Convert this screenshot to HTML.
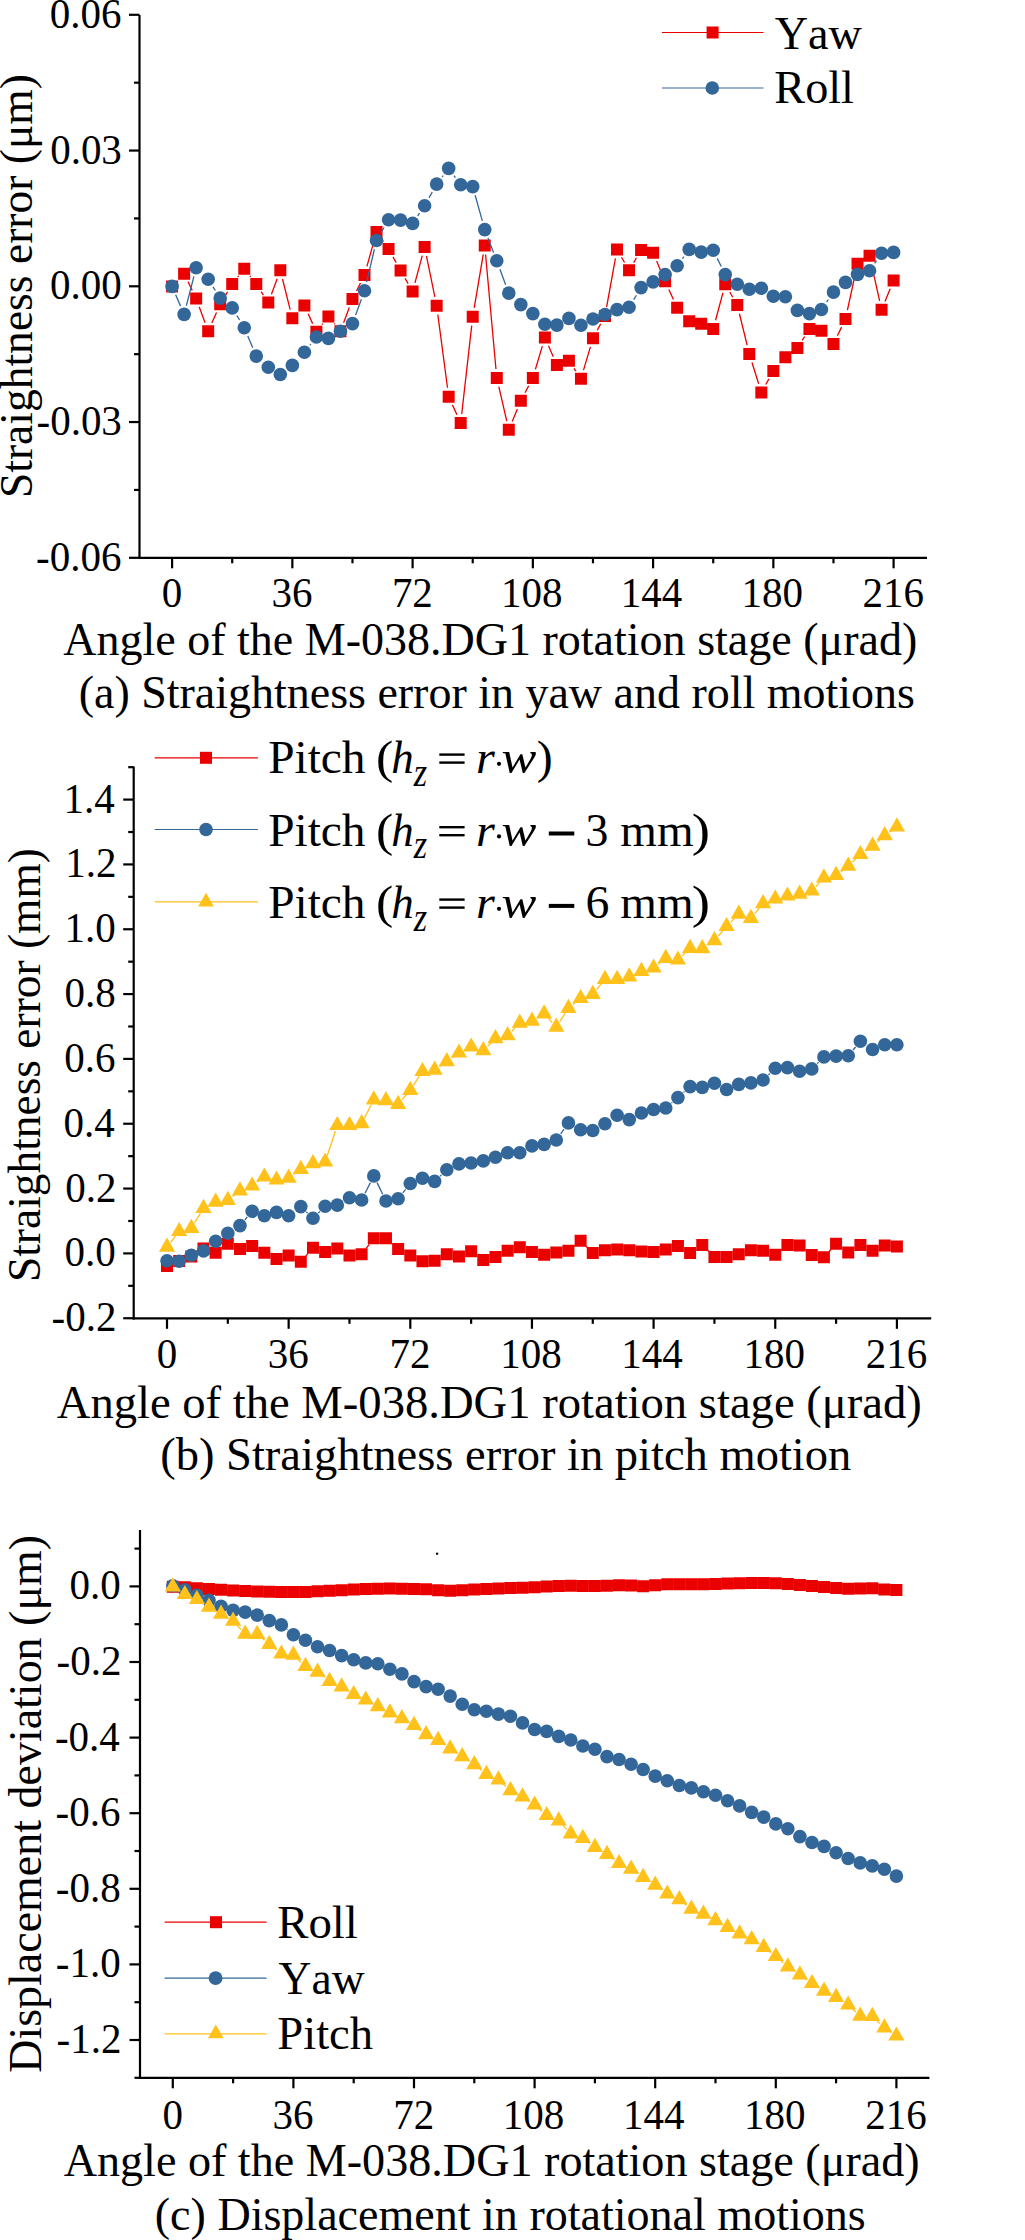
<!DOCTYPE html>
<html><head><meta charset="utf-8"><style>
html,body{margin:0;padding:0;background:#fff;}
svg{display:block;}
text{font-family:"Liberation Serif",serif;font-kerning:none;}
</style></head><body>
<svg width="1025" height="2240" viewBox="0 0 1025 2240" font-family="Liberation Serif, serif" fill="#000">
<rect width="1025" height="2240" fill="#fff"/>
<line x1="139.50" y1="15.00" x2="139.50" y2="558.90" stroke="#000" stroke-width="2.2"/>
<line x1="138.40" y1="557.80" x2="927.00" y2="557.80" stroke="#000" stroke-width="2.2"/>
<line x1="129.00" y1="14.80" x2="139.50" y2="14.80" stroke="#000" stroke-width="2.2"/>
<line x1="129.00" y1="150.55" x2="139.50" y2="150.55" stroke="#000" stroke-width="2.2"/>
<line x1="129.00" y1="286.30" x2="139.50" y2="286.30" stroke="#000" stroke-width="2.2"/>
<line x1="129.00" y1="422.05" x2="139.50" y2="422.05" stroke="#000" stroke-width="2.2"/>
<line x1="129.00" y1="557.80" x2="139.50" y2="557.80" stroke="#000" stroke-width="2.2"/>
<line x1="134.00" y1="82.68" x2="139.50" y2="82.68" stroke="#000" stroke-width="2.2"/>
<line x1="134.00" y1="218.43" x2="139.50" y2="218.43" stroke="#000" stroke-width="2.2"/>
<line x1="134.00" y1="354.18" x2="139.50" y2="354.18" stroke="#000" stroke-width="2.2"/>
<line x1="134.00" y1="489.93" x2="139.50" y2="489.93" stroke="#000" stroke-width="2.2"/>
<line x1="172.10" y1="557.80" x2="172.10" y2="568.30" stroke="#000" stroke-width="2.2"/>
<line x1="292.35" y1="557.80" x2="292.35" y2="568.30" stroke="#000" stroke-width="2.2"/>
<line x1="412.60" y1="557.80" x2="412.60" y2="568.30" stroke="#000" stroke-width="2.2"/>
<line x1="532.85" y1="557.80" x2="532.85" y2="568.30" stroke="#000" stroke-width="2.2"/>
<line x1="653.10" y1="557.80" x2="653.10" y2="568.30" stroke="#000" stroke-width="2.2"/>
<line x1="773.35" y1="557.80" x2="773.35" y2="568.30" stroke="#000" stroke-width="2.2"/>
<line x1="893.60" y1="557.80" x2="893.60" y2="568.30" stroke="#000" stroke-width="2.2"/>
<line x1="232.22" y1="557.80" x2="232.22" y2="563.30" stroke="#000" stroke-width="2.2"/>
<line x1="352.48" y1="557.80" x2="352.48" y2="563.30" stroke="#000" stroke-width="2.2"/>
<line x1="472.73" y1="557.80" x2="472.73" y2="563.30" stroke="#000" stroke-width="2.2"/>
<line x1="592.98" y1="557.80" x2="592.98" y2="563.30" stroke="#000" stroke-width="2.2"/>
<line x1="713.23" y1="557.80" x2="713.23" y2="563.30" stroke="#000" stroke-width="2.2"/>
<line x1="833.48" y1="557.80" x2="833.48" y2="563.30" stroke="#000" stroke-width="2.2"/>
<text transform="translate(49.77,27.80) scale(1,1.05)" font-size="41.0">0.06</text>
<text transform="translate(50.15,163.55) scale(1,1.05)" font-size="41.0">0.03</text>
<text transform="translate(50.11,299.30) scale(1,1.05)" font-size="41.0">0.00</text>
<text transform="translate(36.50,435.05) scale(1,1.05)" font-size="41.0">-0.03</text>
<text transform="translate(36.12,570.80) scale(1,1.05)" font-size="41.0">-0.06</text>
<text transform="translate(161.85,607.00) scale(1,1.05)" font-size="41.0">0</text>
<text transform="translate(271.48,607.00) scale(1,1.05)" font-size="41.0">36</text>
<text transform="translate(391.88,607.00) scale(1,1.05)" font-size="41.0">72</text>
<text transform="translate(501.08,607.00) scale(1,1.05)" font-size="41.0">108</text>
<text transform="translate(620.87,607.00) scale(1,1.05)" font-size="41.0">144</text>
<text transform="translate(741.58,607.00) scale(1,1.05)" font-size="41.0">180</text>
<text transform="translate(862.56,607.00) scale(1,1.05)" font-size="41.0">216</text>
<text x="63.25" y="655.30" font-size="46.035">Angle of the M-038.DG1 rotation stage (μrad)</text>
<text x="78.68" y="708.40" font-size="45.979">(a) Straightness error in yaw and roll motions</text>
<text transform="translate(31.70,498.05) rotate(-90)" font-size="45.540">Straightness error (μm)</text>
<path d="M188.05 281.80L192.22 290.40M199.26 306.95L205.07 322.75M211.84 322.98L216.54 312.42M224.80 296.47L227.62 291.73M237.79 276.92L238.69 275.78M249.81 275.78L250.71 276.92M261.16 291.56L263.41 295.04M271.44 294.17L277.18 278.73M282.51 279.03L290.16 309.57M308.13 313.78L312.65 323.62M321.96 324.72L322.86 323.58M334.12 323.47L334.75 324.23M343.60 322.77L349.33 307.43M356.51 290.95L360.47 283.05M366.92 266.33L374.10 240.67M381.72 239.35L383.35 241.65M392.94 256.85L396.18 262.65M405.05 278.31L408.13 283.69M414.95 282.81L422.28 255.69M426.43 255.82L434.84 296.88M437.83 314.62L447.50 387.78M452.43 404.88L456.95 414.72M461.71 413.96L471.71 325.64M474.23 307.83L483.25 254.47M485.56 254.56L495.96 368.94M498.81 386.67L506.77 421.03M512.24 421.48L517.39 409.02M525.02 392.74L528.65 385.86M535.42 369.27L542.31 346.13M548.48 345.75L553.29 356.75M573.94 368.27L575.93 371.23M583.51 370.07L590.41 346.83M597.26 330.29L600.71 323.91M606.60 307.14L615.43 258.26M621.51 257.20L624.56 262.50M633.64 262.56L636.49 257.74M656.61 261.09L661.62 272.91M668.84 289.40L673.43 299.50M715.56 320.21L722.91 292.89M729.75 291.99L732.77 297.21M739.42 313.74L747.15 345.16M751.98 362.49L758.64 383.81M765.73 384.55L768.94 378.85M802.20 340.38L804.63 336.52M837.39 335.80L841.59 327.10M847.41 310.21L855.61 272.49M871.51 264.58L879.62 300.92M885.00 301.38L890.17 288.82" stroke="#EB0000" stroke-width="1.3" fill="none"/>
<path d="M166.10 280.40h12.0v12.0h-12.0zM178.12 267.70h12.0v12.0h-12.0zM190.15 292.50h12.0v12.0h-12.0zM202.18 325.20h12.0v12.0h-12.0zM214.20 298.20h12.0v12.0h-12.0zM226.22 278.00h12.0v12.0h-12.0zM238.25 262.70h12.0v12.0h-12.0zM250.27 278.00h12.0v12.0h-12.0zM262.30 296.60h12.0v12.0h-12.0zM274.32 264.30h12.0v12.0h-12.0zM286.35 312.30h12.0v12.0h-12.0zM298.38 299.60h12.0v12.0h-12.0zM310.40 325.80h12.0v12.0h-12.0zM322.42 310.50h12.0v12.0h-12.0zM334.45 325.20h12.0v12.0h-12.0zM346.48 293.00h12.0v12.0h-12.0zM358.50 269.00h12.0v12.0h-12.0zM370.52 226.00h12.0v12.0h-12.0zM382.55 243.00h12.0v12.0h-12.0zM394.57 264.50h12.0v12.0h-12.0zM406.60 285.50h12.0v12.0h-12.0zM418.62 241.00h12.0v12.0h-12.0zM430.65 299.70h12.0v12.0h-12.0zM442.67 390.70h12.0v12.0h-12.0zM454.70 416.90h12.0v12.0h-12.0zM466.73 310.70h12.0v12.0h-12.0zM478.75 239.60h12.0v12.0h-12.0zM490.77 371.90h12.0v12.0h-12.0zM502.80 423.80h12.0v12.0h-12.0zM514.83 394.70h12.0v12.0h-12.0zM526.85 371.90h12.0v12.0h-12.0zM538.88 331.50h12.0v12.0h-12.0zM550.90 359.00h12.0v12.0h-12.0zM562.92 354.80h12.0v12.0h-12.0zM574.95 372.70h12.0v12.0h-12.0zM586.98 332.20h12.0v12.0h-12.0zM599.00 310.00h12.0v12.0h-12.0zM611.02 243.40h12.0v12.0h-12.0zM623.05 264.30h12.0v12.0h-12.0zM635.08 244.00h12.0v12.0h-12.0zM647.10 246.80h12.0v12.0h-12.0zM659.12 275.20h12.0v12.0h-12.0zM671.15 301.70h12.0v12.0h-12.0zM683.18 315.20h12.0v12.0h-12.0zM695.20 317.80h12.0v12.0h-12.0zM707.23 322.90h12.0v12.0h-12.0zM719.25 278.20h12.0v12.0h-12.0zM731.27 299.00h12.0v12.0h-12.0zM743.30 347.90h12.0v12.0h-12.0zM755.33 386.40h12.0v12.0h-12.0zM767.35 365.00h12.0v12.0h-12.0zM779.38 351.30h12.0v12.0h-12.0zM791.40 342.00h12.0v12.0h-12.0zM803.43 322.90h12.0v12.0h-12.0zM815.45 324.70h12.0v12.0h-12.0zM827.48 337.90h12.0v12.0h-12.0zM839.50 313.00h12.0v12.0h-12.0zM851.52 257.70h12.0v12.0h-12.0zM863.55 249.80h12.0v12.0h-12.0zM875.58 303.70h12.0v12.0h-12.0zM887.60 274.50h12.0v12.0h-12.0z" fill="#EB0000"/>
<path d="M175.65 294.67L180.57 306.13M186.37 305.68L193.91 276.42M213.02 286.88L215.35 290.52M236.90 315.59L239.58 320.01M247.76 335.99L252.77 347.81M309.94 345.22L310.84 344.08M355.57 315.15L361.40 299.25M366.59 282.05L374.43 249.25M381.03 232.71L384.05 227.49M417.66 215.96L419.57 213.14M429.00 197.84L432.27 191.96M442.12 176.95L443.20 175.55M454.00 175.66L455.38 177.54M475.15 195.27L482.33 220.93M487.99 238.00L493.54 252.40M499.92 269.23L505.66 284.67M633.74 299.62L636.39 295.28M682.47 258.54L683.85 256.66M717.22 258.37L721.26 266.53M826.57 302.10L828.36 299.50M874.63 263.37L876.50 260.63" stroke="#336699" stroke-width="1.3" fill="none"/>
<circle cx="172.10" cy="286.40" r="6.8" fill="#336699"/>
<circle cx="184.12" cy="314.40" r="6.8" fill="#336699"/>
<circle cx="196.15" cy="267.70" r="6.8" fill="#336699"/>
<circle cx="208.18" cy="279.30" r="6.8" fill="#336699"/>
<circle cx="220.20" cy="298.10" r="6.8" fill="#336699"/>
<circle cx="232.22" cy="307.90" r="6.8" fill="#336699"/>
<circle cx="244.25" cy="327.70" r="6.8" fill="#336699"/>
<circle cx="256.27" cy="356.10" r="6.8" fill="#336699"/>
<circle cx="268.30" cy="367.30" r="6.8" fill="#336699"/>
<circle cx="280.32" cy="374.50" r="6.8" fill="#336699"/>
<circle cx="292.35" cy="365.40" r="6.8" fill="#336699"/>
<circle cx="304.38" cy="352.30" r="6.8" fill="#336699"/>
<circle cx="316.40" cy="337.00" r="6.8" fill="#336699"/>
<circle cx="328.42" cy="338.40" r="6.8" fill="#336699"/>
<circle cx="340.45" cy="331.20" r="6.8" fill="#336699"/>
<circle cx="352.48" cy="323.60" r="6.8" fill="#336699"/>
<circle cx="364.50" cy="290.80" r="6.8" fill="#336699"/>
<circle cx="376.52" cy="240.50" r="6.8" fill="#336699"/>
<circle cx="388.55" cy="219.70" r="6.8" fill="#336699"/>
<circle cx="400.57" cy="220.10" r="6.8" fill="#336699"/>
<circle cx="412.60" cy="223.40" r="6.8" fill="#336699"/>
<circle cx="424.62" cy="205.70" r="6.8" fill="#336699"/>
<circle cx="436.65" cy="184.10" r="6.8" fill="#336699"/>
<circle cx="448.67" cy="168.40" r="6.8" fill="#336699"/>
<circle cx="460.70" cy="184.80" r="6.8" fill="#336699"/>
<circle cx="472.73" cy="186.60" r="6.8" fill="#336699"/>
<circle cx="484.75" cy="229.60" r="6.8" fill="#336699"/>
<circle cx="496.77" cy="260.80" r="6.8" fill="#336699"/>
<circle cx="508.80" cy="293.10" r="6.8" fill="#336699"/>
<circle cx="520.83" cy="304.60" r="6.8" fill="#336699"/>
<circle cx="532.85" cy="313.60" r="6.8" fill="#336699"/>
<circle cx="544.88" cy="324.20" r="6.8" fill="#336699"/>
<circle cx="556.90" cy="325.10" r="6.8" fill="#336699"/>
<circle cx="568.92" cy="318.40" r="6.8" fill="#336699"/>
<circle cx="580.95" cy="325.20" r="6.8" fill="#336699"/>
<circle cx="592.98" cy="319.00" r="6.8" fill="#336699"/>
<circle cx="605.00" cy="314.50" r="6.8" fill="#336699"/>
<circle cx="617.02" cy="309.60" r="6.8" fill="#336699"/>
<circle cx="629.05" cy="307.30" r="6.8" fill="#336699"/>
<circle cx="641.08" cy="287.60" r="6.8" fill="#336699"/>
<circle cx="653.10" cy="281.90" r="6.8" fill="#336699"/>
<circle cx="665.12" cy="274.60" r="6.8" fill="#336699"/>
<circle cx="677.15" cy="265.80" r="6.8" fill="#336699"/>
<circle cx="689.18" cy="249.40" r="6.8" fill="#336699"/>
<circle cx="701.20" cy="252.10" r="6.8" fill="#336699"/>
<circle cx="713.23" cy="250.30" r="6.8" fill="#336699"/>
<circle cx="725.25" cy="274.60" r="6.8" fill="#336699"/>
<circle cx="737.27" cy="284.20" r="6.8" fill="#336699"/>
<circle cx="749.30" cy="289.30" r="6.8" fill="#336699"/>
<circle cx="761.33" cy="288.30" r="6.8" fill="#336699"/>
<circle cx="773.35" cy="296.20" r="6.8" fill="#336699"/>
<circle cx="785.38" cy="296.80" r="6.8" fill="#336699"/>
<circle cx="797.40" cy="310.40" r="6.8" fill="#336699"/>
<circle cx="809.43" cy="313.60" r="6.8" fill="#336699"/>
<circle cx="821.45" cy="309.50" r="6.8" fill="#336699"/>
<circle cx="833.48" cy="292.10" r="6.8" fill="#336699"/>
<circle cx="845.50" cy="282.40" r="6.8" fill="#336699"/>
<circle cx="857.52" cy="274.40" r="6.8" fill="#336699"/>
<circle cx="869.55" cy="270.80" r="6.8" fill="#336699"/>
<circle cx="881.58" cy="253.20" r="6.8" fill="#336699"/>
<circle cx="893.60" cy="252.40" r="6.8" fill="#336699"/>
<line x1="662.00" y1="32.50" x2="763.50" y2="32.50" stroke="#EB0000" stroke-width="1.2"/>
<rect x="706.6" y="26.5" width="12" height="12" fill="#EB0000"/>
<line x1="662.00" y1="88.00" x2="763.50" y2="88.00" stroke="#336699" stroke-width="1.2"/>
<circle cx="712.3" cy="88" r="6.8" fill="#336699"/>
<text transform="translate(774.68,48.60) scale(0.9923,1.0)" font-size="46.5">Yaw</text>
<text transform="translate(774.37,103.40) scale(0.9932,1.0)" font-size="46.5">Roll</text>
<line x1="133.70" y1="766.50" x2="133.70" y2="1319.40" stroke="#000" stroke-width="2.2"/>
<line x1="132.60" y1="1318.30" x2="931.20" y2="1318.30" stroke="#000" stroke-width="2.2"/>
<line x1="123.20" y1="1318.23" x2="133.70" y2="1318.23" stroke="#000" stroke-width="2.2"/>
<line x1="123.20" y1="1253.40" x2="133.70" y2="1253.40" stroke="#000" stroke-width="2.2"/>
<line x1="123.20" y1="1188.57" x2="133.70" y2="1188.57" stroke="#000" stroke-width="2.2"/>
<line x1="123.20" y1="1123.74" x2="133.70" y2="1123.74" stroke="#000" stroke-width="2.2"/>
<line x1="123.20" y1="1058.91" x2="133.70" y2="1058.91" stroke="#000" stroke-width="2.2"/>
<line x1="123.20" y1="994.08" x2="133.70" y2="994.08" stroke="#000" stroke-width="2.2"/>
<line x1="123.20" y1="929.25" x2="133.70" y2="929.25" stroke="#000" stroke-width="2.2"/>
<line x1="123.20" y1="864.42" x2="133.70" y2="864.42" stroke="#000" stroke-width="2.2"/>
<line x1="123.20" y1="799.59" x2="133.70" y2="799.59" stroke="#000" stroke-width="2.2"/>
<line x1="128.20" y1="1285.82" x2="133.70" y2="1285.82" stroke="#000" stroke-width="2.2"/>
<line x1="128.20" y1="1220.99" x2="133.70" y2="1220.99" stroke="#000" stroke-width="2.2"/>
<line x1="128.20" y1="1156.15" x2="133.70" y2="1156.15" stroke="#000" stroke-width="2.2"/>
<line x1="128.20" y1="1091.33" x2="133.70" y2="1091.33" stroke="#000" stroke-width="2.2"/>
<line x1="128.20" y1="1026.50" x2="133.70" y2="1026.50" stroke="#000" stroke-width="2.2"/>
<line x1="128.20" y1="961.67" x2="133.70" y2="961.67" stroke="#000" stroke-width="2.2"/>
<line x1="128.20" y1="896.84" x2="133.70" y2="896.84" stroke="#000" stroke-width="2.2"/>
<line x1="128.20" y1="832.01" x2="133.70" y2="832.01" stroke="#000" stroke-width="2.2"/>
<line x1="128.20" y1="767.18" x2="133.70" y2="767.18" stroke="#000" stroke-width="2.2"/>
<line x1="167.00" y1="1318.30" x2="167.00" y2="1328.80" stroke="#000" stroke-width="2.2"/>
<line x1="288.65" y1="1318.30" x2="288.65" y2="1328.80" stroke="#000" stroke-width="2.2"/>
<line x1="410.30" y1="1318.30" x2="410.30" y2="1328.80" stroke="#000" stroke-width="2.2"/>
<line x1="531.95" y1="1318.30" x2="531.95" y2="1328.80" stroke="#000" stroke-width="2.2"/>
<line x1="653.60" y1="1318.30" x2="653.60" y2="1328.80" stroke="#000" stroke-width="2.2"/>
<line x1="775.25" y1="1318.30" x2="775.25" y2="1328.80" stroke="#000" stroke-width="2.2"/>
<line x1="896.90" y1="1318.30" x2="896.90" y2="1328.80" stroke="#000" stroke-width="2.2"/>
<line x1="227.82" y1="1318.30" x2="227.82" y2="1323.80" stroke="#000" stroke-width="2.2"/>
<line x1="349.48" y1="1318.30" x2="349.48" y2="1323.80" stroke="#000" stroke-width="2.2"/>
<line x1="471.12" y1="1318.30" x2="471.12" y2="1323.80" stroke="#000" stroke-width="2.2"/>
<line x1="592.78" y1="1318.30" x2="592.78" y2="1323.80" stroke="#000" stroke-width="2.2"/>
<line x1="714.43" y1="1318.30" x2="714.43" y2="1323.80" stroke="#000" stroke-width="2.2"/>
<line x1="836.08" y1="1318.30" x2="836.08" y2="1323.80" stroke="#000" stroke-width="2.2"/>
<text transform="translate(51.56,1331.23) scale(1,1.05)" font-size="41.0">-0.2</text>
<text transform="translate(64.51,1266.40) scale(1,1.05)" font-size="41.0">0.0</text>
<text transform="translate(65.21,1201.57) scale(1,1.05)" font-size="41.0">0.2</text>
<text transform="translate(63.59,1136.74) scale(1,1.05)" font-size="41.0">0.4</text>
<text transform="translate(64.17,1071.91) scale(1,1.05)" font-size="41.0">0.6</text>
<text transform="translate(64.51,1007.08) scale(1,1.05)" font-size="41.0">0.8</text>
<text transform="translate(64.51,942.25) scale(1,1.05)" font-size="41.0">1.0</text>
<text transform="translate(65.21,877.42) scale(1,1.05)" font-size="41.0">1.2</text>
<text transform="translate(63.59,812.59) scale(1,1.05)" font-size="41.0">1.4</text>
<text transform="translate(156.75,1368.20) scale(1,1.05)" font-size="41.0">0</text>
<text transform="translate(267.78,1368.20) scale(1,1.05)" font-size="41.0">36</text>
<text transform="translate(389.58,1368.20) scale(1,1.05)" font-size="41.0">72</text>
<text transform="translate(500.18,1368.20) scale(1,1.05)" font-size="41.0">108</text>
<text transform="translate(621.37,1368.20) scale(1,1.05)" font-size="41.0">144</text>
<text transform="translate(743.48,1368.20) scale(1,1.05)" font-size="41.0">180</text>
<text transform="translate(865.86,1368.20) scale(1,1.05)" font-size="41.0">216</text>
<text x="56.74" y="1417.50" font-size="46.624">Angle of the M-038.DG1 rotation stage (μrad)</text>
<text x="160.16" y="1469.90" font-size="46.522">(b) Straightness error in pitch motion</text>
<text transform="translate(40.00,1282.04) rotate(-90)" font-size="45.433">Straightness error (mm)</text>
<path d="M305.71 1256.12L308.08 1253.38M366.18 1248.33L369.27 1244.27M391.58 1243.28L392.53 1244.12M574.22 1246.01L574.84 1245.49M585.86 1246.05L587.52 1247.75M707.56 1250.21L709.13 1251.79M781.09 1249.99L781.57 1249.61M828.91 1251.71L831.07 1249.29" stroke="#EB0000" stroke-width="1.3" fill="none"/>
<path d="M161.00 1260.00h12.0v12.0h-12.0zM173.16 1255.00h12.0v12.0h-12.0zM185.33 1250.50h12.0v12.0h-12.0zM197.50 1242.40h12.0v12.0h-12.0zM209.66 1246.80h12.0v12.0h-12.0zM221.82 1237.70h12.0v12.0h-12.0zM233.99 1243.10h12.0v12.0h-12.0zM246.16 1240.10h12.0v12.0h-12.0zM258.32 1246.70h12.0v12.0h-12.0zM270.49 1252.90h12.0v12.0h-12.0zM282.65 1249.50h12.0v12.0h-12.0zM294.81 1255.80h12.0v12.0h-12.0zM306.98 1241.70h12.0v12.0h-12.0zM319.14 1245.90h12.0v12.0h-12.0zM331.31 1242.40h12.0v12.0h-12.0zM343.48 1249.40h12.0v12.0h-12.0zM355.64 1248.30h12.0v12.0h-12.0zM367.81 1232.30h12.0v12.0h-12.0zM379.97 1232.30h12.0v12.0h-12.0zM392.13 1243.10h12.0v12.0h-12.0zM404.30 1249.40h12.0v12.0h-12.0zM416.47 1255.30h12.0v12.0h-12.0zM428.63 1254.80h12.0v12.0h-12.0zM440.80 1248.30h12.0v12.0h-12.0zM452.96 1250.60h12.0v12.0h-12.0zM465.12 1245.20h12.0v12.0h-12.0zM477.29 1254.10h12.0v12.0h-12.0zM489.46 1251.10h12.0v12.0h-12.0zM501.62 1244.80h12.0v12.0h-12.0zM513.79 1241.20h12.0v12.0h-12.0zM525.95 1245.90h12.0v12.0h-12.0zM538.12 1248.70h12.0v12.0h-12.0zM550.28 1246.40h12.0v12.0h-12.0zM562.45 1244.80h12.0v12.0h-12.0zM574.61 1234.70h12.0v12.0h-12.0zM586.77 1247.10h12.0v12.0h-12.0zM598.94 1244.30h12.0v12.0h-12.0zM611.11 1243.60h12.0v12.0h-12.0zM623.27 1244.30h12.0v12.0h-12.0zM635.44 1245.50h12.0v12.0h-12.0zM647.60 1245.90h12.0v12.0h-12.0zM659.77 1243.60h12.0v12.0h-12.0zM671.93 1240.10h12.0v12.0h-12.0zM684.10 1247.10h12.0v12.0h-12.0zM696.26 1238.90h12.0v12.0h-12.0zM708.42 1251.10h12.0v12.0h-12.0zM720.59 1251.10h12.0v12.0h-12.0zM732.75 1248.30h12.0v12.0h-12.0zM744.92 1244.30h12.0v12.0h-12.0zM757.09 1244.80h12.0v12.0h-12.0zM769.25 1248.70h12.0v12.0h-12.0zM781.42 1238.90h12.0v12.0h-12.0zM793.58 1239.60h12.0v12.0h-12.0zM805.75 1249.00h12.0v12.0h-12.0zM817.91 1251.30h12.0v12.0h-12.0zM830.08 1237.70h12.0v12.0h-12.0zM842.24 1246.40h12.0v12.0h-12.0zM854.40 1238.90h12.0v12.0h-12.0zM866.57 1244.80h12.0v12.0h-12.0zM878.74 1239.60h12.0v12.0h-12.0zM890.90 1240.50h12.0v12.0h-12.0z" fill="#EB0000"/>
<path d="M244.85 1219.89L247.30 1217.01M306.22 1211.80L307.57 1213.10M318.30 1213.01L319.83 1211.49M365.02 1193.30L370.43 1182.60M377.08 1182.65L382.70 1194.25M402.80 1192.93L405.63 1189.37M440.04 1176.20L441.39 1174.90M560.63 1133.89L564.10 1129.01M671.47 1103.13L672.23 1102.47M683.49 1092.57L684.53 1091.63M768.49 1074.80L769.84 1073.50M817.08 1063.63L818.57 1062.17M853.04 1050.04L855.60 1046.96" stroke="#336699" stroke-width="1.3" fill="none"/>
<circle cx="167.00" cy="1260.70" r="6.8" fill="#336699"/>
<circle cx="179.16" cy="1261.20" r="6.8" fill="#336699"/>
<circle cx="191.33" cy="1255.20" r="6.8" fill="#336699"/>
<circle cx="203.50" cy="1250.90" r="6.8" fill="#336699"/>
<circle cx="215.66" cy="1241.30" r="6.8" fill="#336699"/>
<circle cx="227.82" cy="1233.20" r="6.8" fill="#336699"/>
<circle cx="239.99" cy="1225.60" r="6.8" fill="#336699"/>
<circle cx="252.16" cy="1211.30" r="6.8" fill="#336699"/>
<circle cx="264.32" cy="1215.70" r="6.8" fill="#336699"/>
<circle cx="276.49" cy="1212.40" r="6.8" fill="#336699"/>
<circle cx="288.65" cy="1215.80" r="6.8" fill="#336699"/>
<circle cx="300.81" cy="1206.60" r="6.8" fill="#336699"/>
<circle cx="312.98" cy="1218.30" r="6.8" fill="#336699"/>
<circle cx="325.14" cy="1206.20" r="6.8" fill="#336699"/>
<circle cx="337.31" cy="1205.10" r="6.8" fill="#336699"/>
<circle cx="349.48" cy="1197.80" r="6.8" fill="#336699"/>
<circle cx="361.64" cy="1200.00" r="6.8" fill="#336699"/>
<circle cx="373.81" cy="1175.90" r="6.8" fill="#336699"/>
<circle cx="385.97" cy="1201.00" r="6.8" fill="#336699"/>
<circle cx="398.13" cy="1198.80" r="6.8" fill="#336699"/>
<circle cx="410.30" cy="1183.50" r="6.8" fill="#336699"/>
<circle cx="422.47" cy="1178.30" r="6.8" fill="#336699"/>
<circle cx="434.63" cy="1181.40" r="6.8" fill="#336699"/>
<circle cx="446.80" cy="1169.70" r="6.8" fill="#336699"/>
<circle cx="458.96" cy="1163.90" r="6.8" fill="#336699"/>
<circle cx="471.12" cy="1163.00" r="6.8" fill="#336699"/>
<circle cx="483.29" cy="1160.90" r="6.8" fill="#336699"/>
<circle cx="495.46" cy="1157.30" r="6.8" fill="#336699"/>
<circle cx="507.62" cy="1152.70" r="6.8" fill="#336699"/>
<circle cx="519.79" cy="1152.70" r="6.8" fill="#336699"/>
<circle cx="531.95" cy="1145.90" r="6.8" fill="#336699"/>
<circle cx="544.12" cy="1144.40" r="6.8" fill="#336699"/>
<circle cx="556.28" cy="1140.00" r="6.8" fill="#336699"/>
<circle cx="568.45" cy="1122.90" r="6.8" fill="#336699"/>
<circle cx="580.61" cy="1129.80" r="6.8" fill="#336699"/>
<circle cx="592.77" cy="1130.50" r="6.8" fill="#336699"/>
<circle cx="604.94" cy="1123.70" r="6.8" fill="#336699"/>
<circle cx="617.11" cy="1115.20" r="6.8" fill="#336699"/>
<circle cx="629.27" cy="1119.60" r="6.8" fill="#336699"/>
<circle cx="641.44" cy="1113.00" r="6.8" fill="#336699"/>
<circle cx="653.60" cy="1109.50" r="6.8" fill="#336699"/>
<circle cx="665.77" cy="1108.00" r="6.8" fill="#336699"/>
<circle cx="677.93" cy="1097.60" r="6.8" fill="#336699"/>
<circle cx="690.10" cy="1086.60" r="6.8" fill="#336699"/>
<circle cx="702.26" cy="1087.40" r="6.8" fill="#336699"/>
<circle cx="714.42" cy="1083.20" r="6.8" fill="#336699"/>
<circle cx="726.59" cy="1089.50" r="6.8" fill="#336699"/>
<circle cx="738.75" cy="1084.40" r="6.8" fill="#336699"/>
<circle cx="750.92" cy="1082.90" r="6.8" fill="#336699"/>
<circle cx="763.09" cy="1080.00" r="6.8" fill="#336699"/>
<circle cx="775.25" cy="1068.30" r="6.8" fill="#336699"/>
<circle cx="787.42" cy="1067.60" r="6.8" fill="#336699"/>
<circle cx="799.58" cy="1071.30" r="6.8" fill="#336699"/>
<circle cx="811.75" cy="1068.90" r="6.8" fill="#336699"/>
<circle cx="823.91" cy="1056.90" r="6.8" fill="#336699"/>
<circle cx="836.08" cy="1056.10" r="6.8" fill="#336699"/>
<circle cx="848.24" cy="1055.80" r="6.8" fill="#336699"/>
<circle cx="860.40" cy="1041.20" r="6.8" fill="#336699"/>
<circle cx="872.57" cy="1049.50" r="6.8" fill="#336699"/>
<circle cx="884.74" cy="1044.70" r="6.8" fill="#336699"/>
<circle cx="896.90" cy="1044.70" r="6.8" fill="#336699"/>
<path d="M170.69 1242.24L175.48 1236.10M184.97 1229.84L185.53 1229.69M194.46 1223.05L200.37 1213.39M208.84 1205.54L210.31 1204.79M232.55 1196.47L235.26 1194.36M245.57 1188.46L246.57 1188.07M256.98 1182.30L259.50 1180.44M270.15 1178.30L270.66 1178.43M293.51 1174.55L295.95 1172.78M306.25 1166.72L307.55 1166.11M327.04 1156.17L335.41 1131.06M364.37 1118.12L371.07 1105.01M391.71 1102.21L392.39 1102.42M402.09 1099.65L406.35 1094.78M413.55 1085.22L419.22 1076.41M439.55 1066.53L441.88 1064.90M451.69 1058.00L454.06 1056.33M464.34 1050.21L465.74 1049.52M476.87 1048.61L477.55 1048.82M487.54 1046.34L491.20 1042.70M501.29 1037.08L501.78 1036.96M511.80 1031.27L515.60 1027.37M537.09 1017.88L538.97 1016.75M548.16 1018.09L552.23 1022.54M559.54 1021.93L565.19 1013.20M573.12 1004.40L575.94 1002.13M586.30 996.45L587.09 996.18M596.55 989.61L601.16 983.93M634.74 974.29L635.97 973.74M647.21 969.65L647.82 969.48M658.31 964.15L661.05 961.98M682.25 955.71L685.77 952.33M707.27 945.27L709.41 943.86M718.33 936.01L722.69 930.92M730.81 922.10L734.54 918.33M744.43 916.02L745.25 916.31M754.75 913.64L759.26 908.19M768.68 901.40L769.65 901.03M781.08 897.43L781.59 897.30M805.38 892.54L805.94 892.39M815.83 886.47L819.83 882.16M840.86 871.65L843.45 869.69M852.56 861.91L856.08 858.53M865.34 850.96L867.63 849.38M877.13 842.07L880.17 839.47M889.60 832.05L892.04 830.28" stroke="#FFC11A" stroke-width="1.3" fill="none"/>
<path d="M167.00 1237.50L175.10 1251.70L158.90 1251.70zM179.16 1221.90L187.26 1236.10L171.06 1236.10zM191.33 1218.70L199.43 1232.90L183.23 1232.90zM203.50 1198.80L211.59 1213.00L195.40 1213.00zM215.66 1192.60L223.76 1206.80L207.56 1206.80zM227.82 1190.70L235.92 1204.90L219.72 1204.90zM239.99 1181.20L248.09 1195.40L231.89 1195.40zM252.16 1176.40L260.25 1190.60L244.06 1190.60zM264.32 1167.40L272.42 1181.60L256.22 1181.60zM276.49 1170.40L284.59 1184.60L268.38 1184.60zM288.65 1168.60L296.75 1182.80L280.55 1182.80zM300.81 1159.80L308.92 1174.00L292.71 1174.00zM312.98 1154.10L321.08 1168.30L304.88 1168.30zM325.14 1152.40L333.25 1166.60L317.04 1166.60zM337.31 1115.90L345.41 1130.10L329.21 1130.10zM349.48 1115.90L357.58 1130.10L341.38 1130.10zM361.64 1114.00L369.74 1128.20L353.54 1128.20zM373.81 1090.20L381.91 1104.40L365.70 1104.40zM385.97 1091.00L394.07 1105.20L377.87 1105.20zM398.13 1094.70L406.24 1108.90L390.03 1108.90zM410.30 1080.80L418.40 1095.00L402.20 1095.00zM422.47 1061.90L430.57 1076.10L414.37 1076.10zM434.63 1060.50L442.73 1074.70L426.53 1074.70zM446.80 1052.00L454.90 1066.20L438.69 1066.20zM458.96 1043.40L467.06 1057.60L450.86 1057.60zM471.12 1037.40L479.23 1051.60L463.02 1051.60zM483.29 1041.10L491.39 1055.30L475.19 1055.30zM495.46 1029.00L503.56 1043.20L487.36 1043.20zM507.62 1026.10L515.72 1040.30L499.52 1040.30zM519.79 1013.60L527.89 1027.80L511.69 1027.80zM531.95 1011.50L540.05 1025.70L523.85 1025.70zM544.12 1004.20L552.22 1018.40L536.01 1018.40zM556.28 1017.50L564.38 1031.70L548.18 1031.70zM568.45 998.70L576.55 1012.90L560.35 1012.90zM580.61 988.90L588.71 1003.10L572.51 1003.10zM592.77 984.80L600.88 999.00L584.67 999.00zM604.94 969.80L613.04 984.00L596.84 984.00zM617.11 969.80L625.21 984.00L609.00 984.00zM629.27 967.30L637.37 981.50L621.17 981.50zM641.44 961.80L649.54 976.00L633.34 976.00zM653.60 958.40L661.70 972.60L645.50 972.60zM665.77 948.80L673.87 963.00L657.67 963.00zM677.93 950.40L686.03 964.60L669.83 964.60zM690.10 938.70L698.20 952.90L682.00 952.90zM702.26 939.10L710.36 953.30L694.16 953.30zM714.42 931.10L722.52 945.30L706.32 945.30zM726.59 916.90L734.69 931.10L718.49 931.10zM738.75 904.60L746.86 918.80L730.65 918.80zM750.92 908.80L759.02 923.00L742.82 923.00zM763.09 894.10L771.19 908.30L754.99 908.30zM775.25 889.40L783.35 903.60L767.15 903.60zM787.42 886.40L795.52 900.60L779.32 900.60zM799.58 884.60L807.68 898.80L791.48 898.80zM811.75 881.40L819.85 895.60L803.65 895.60zM823.91 868.30L832.01 882.50L815.81 882.50zM836.08 865.80L844.18 880.00L827.98 880.00zM848.24 856.60L856.34 870.80L840.14 870.80zM860.40 844.90L868.50 859.10L852.30 859.10zM872.57 836.50L880.67 850.70L864.47 850.70zM884.74 826.10L892.84 840.30L876.63 840.30zM896.90 817.30L905.00 831.50L888.80 831.50z" fill="#FFC11A"/>
<line x1="154.70" y1="757.80" x2="257.90" y2="757.80" stroke="#EB0000" stroke-width="1.2"/>
<rect x="200" y="751.8" width="12" height="12" fill="#EB0000"/>
<line x1="154.70" y1="829.50" x2="257.90" y2="829.50" stroke="#336699" stroke-width="1.2"/>
<circle cx="206" cy="829.5" r="6.8" fill="#336699"/>
<line x1="154.70" y1="901.80" x2="257.90" y2="901.80" stroke="#FFC11A" stroke-width="1.2"/>
<path d="M206 892.7L213.9 906.4L198.1 906.4z" fill="#FFC11A"/>
<text transform="translate(268.24,773.00) scale(1.0178,1.0)" font-size="46.5">Pitch</text>
<text transform="translate(375.92,773.00) scale(1.1257,1.0)" font-size="46">(</text>
<text transform="translate(391.37,773.00) scale(0.9779,1.0)" font-size="46" font-style="italic">h</text>
<text transform="translate(413.69,785.60) scale(0.8807,1.0)" font-size="39" font-style="italic">z</text>
<rect x="439.3" y="753.40" width="25.3" height="2.4"/>
<rect x="439.3" y="761.40" width="25.3" height="2.4"/>
<text transform="translate(475.94,773.00) scale(1.0512,1.0)" font-size="46" font-style="italic">r</text>
<circle cx="499.0" cy="763.80" r="2.1"/>
<text transform="translate(501.45,773.00) scale(1.1353,1.0)" font-size="46" font-style="italic">w</text>
<text transform="translate(536.66,773.00) scale(1.0411,1.0)" font-size="46">)</text>
<text transform="translate(268.24,845.60) scale(1.0178,1.0)" font-size="46.5">Pitch</text>
<text transform="translate(375.92,845.60) scale(1.1257,1.0)" font-size="46">(</text>
<text transform="translate(391.37,845.60) scale(0.9779,1.0)" font-size="46" font-style="italic">h</text>
<text transform="translate(413.69,858.20) scale(0.8807,1.0)" font-size="39" font-style="italic">z</text>
<rect x="439.3" y="826.00" width="25.3" height="2.4"/>
<rect x="439.3" y="834.00" width="25.3" height="2.4"/>
<text transform="translate(475.94,845.60) scale(1.0512,1.0)" font-size="46" font-style="italic">r</text>
<circle cx="499.0" cy="836.40" r="2.1"/>
<text transform="translate(501.45,845.60) scale(1.1353,1.0)" font-size="46" font-style="italic">w</text>
<rect x="548.8" y="831.50" width="25.5" height="4.0"/>
<text transform="translate(585.41,845.60) scale(0.9946,1.0)" font-size="46">3</text>
<text transform="translate(620.31,845.60) scale(1.0247,1.0)" font-size="46">mm</text>
<text transform="translate(691.73,845.60) scale(1.1935,1.0)" font-size="46">)</text>
<text transform="translate(268.24,918.00) scale(1.0178,1.0)" font-size="46.5">Pitch</text>
<text transform="translate(375.92,918.00) scale(1.1257,1.0)" font-size="46">(</text>
<text transform="translate(391.37,918.00) scale(0.9779,1.0)" font-size="46" font-style="italic">h</text>
<text transform="translate(413.69,930.60) scale(0.8807,1.0)" font-size="39" font-style="italic">z</text>
<rect x="439.3" y="898.40" width="25.3" height="2.4"/>
<rect x="439.3" y="906.40" width="25.3" height="2.4"/>
<text transform="translate(475.94,918.00) scale(1.0512,1.0)" font-size="46" font-style="italic">r</text>
<circle cx="499.0" cy="908.80" r="2.1"/>
<text transform="translate(501.45,918.00) scale(1.1353,1.0)" font-size="46" font-style="italic">w</text>
<rect x="548.8" y="903.90" width="25.5" height="4.0"/>
<text transform="translate(585.55,918.00) scale(1.0380,1.0)" font-size="46">6</text>
<text transform="translate(620.31,918.00) scale(1.0247,1.0)" font-size="46">mm</text>
<text transform="translate(691.73,918.00) scale(1.1935,1.0)" font-size="46">)</text>
<line x1="140.00" y1="1530.00" x2="140.00" y2="2078.90" stroke="#000" stroke-width="2.2"/>
<line x1="138.90" y1="2077.80" x2="929.40" y2="2077.80" stroke="#000" stroke-width="2.2"/>
<line x1="129.50" y1="1586.40" x2="140.00" y2="1586.40" stroke="#000" stroke-width="2.2"/>
<line x1="129.50" y1="1662.00" x2="140.00" y2="1662.00" stroke="#000" stroke-width="2.2"/>
<line x1="129.50" y1="1737.60" x2="140.00" y2="1737.60" stroke="#000" stroke-width="2.2"/>
<line x1="129.50" y1="1813.20" x2="140.00" y2="1813.20" stroke="#000" stroke-width="2.2"/>
<line x1="129.50" y1="1888.80" x2="140.00" y2="1888.80" stroke="#000" stroke-width="2.2"/>
<line x1="129.50" y1="1964.40" x2="140.00" y2="1964.40" stroke="#000" stroke-width="2.2"/>
<line x1="129.50" y1="2040.00" x2="140.00" y2="2040.00" stroke="#000" stroke-width="2.2"/>
<line x1="134.50" y1="1548.60" x2="140.00" y2="1548.60" stroke="#000" stroke-width="2.2"/>
<line x1="134.50" y1="1624.20" x2="140.00" y2="1624.20" stroke="#000" stroke-width="2.2"/>
<line x1="134.50" y1="1699.80" x2="140.00" y2="1699.80" stroke="#000" stroke-width="2.2"/>
<line x1="134.50" y1="1775.40" x2="140.00" y2="1775.40" stroke="#000" stroke-width="2.2"/>
<line x1="134.50" y1="1851.00" x2="140.00" y2="1851.00" stroke="#000" stroke-width="2.2"/>
<line x1="134.50" y1="1926.60" x2="140.00" y2="1926.60" stroke="#000" stroke-width="2.2"/>
<line x1="134.50" y1="2002.20" x2="140.00" y2="2002.20" stroke="#000" stroke-width="2.2"/>
<line x1="134.50" y1="2077.80" x2="140.00" y2="2077.80" stroke="#000" stroke-width="2.2"/>
<line x1="172.80" y1="2077.80" x2="172.80" y2="2088.30" stroke="#000" stroke-width="2.2"/>
<line x1="293.40" y1="2077.80" x2="293.40" y2="2088.30" stroke="#000" stroke-width="2.2"/>
<line x1="414.00" y1="2077.80" x2="414.00" y2="2088.30" stroke="#000" stroke-width="2.2"/>
<line x1="534.60" y1="2077.80" x2="534.60" y2="2088.30" stroke="#000" stroke-width="2.2"/>
<line x1="655.20" y1="2077.80" x2="655.20" y2="2088.30" stroke="#000" stroke-width="2.2"/>
<line x1="775.80" y1="2077.80" x2="775.80" y2="2088.30" stroke="#000" stroke-width="2.2"/>
<line x1="896.40" y1="2077.80" x2="896.40" y2="2088.30" stroke="#000" stroke-width="2.2"/>
<line x1="233.10" y1="2077.80" x2="233.10" y2="2083.30" stroke="#000" stroke-width="2.2"/>
<line x1="353.70" y1="2077.80" x2="353.70" y2="2083.30" stroke="#000" stroke-width="2.2"/>
<line x1="474.30" y1="2077.80" x2="474.30" y2="2083.30" stroke="#000" stroke-width="2.2"/>
<line x1="594.90" y1="2077.80" x2="594.90" y2="2083.30" stroke="#000" stroke-width="2.2"/>
<line x1="715.50" y1="2077.80" x2="715.50" y2="2083.30" stroke="#000" stroke-width="2.2"/>
<line x1="836.10" y1="2077.80" x2="836.10" y2="2083.30" stroke="#000" stroke-width="2.2"/>
<text transform="translate(69.51,1599.30) scale(1,1.05)" font-size="41.0">0.0</text>
<text transform="translate(56.56,1674.90) scale(1,1.05)" font-size="41.0">-0.2</text>
<text transform="translate(54.94,1750.50) scale(1,1.05)" font-size="41.0">-0.4</text>
<text transform="translate(55.52,1826.10) scale(1,1.05)" font-size="41.0">-0.6</text>
<text transform="translate(55.86,1901.70) scale(1,1.05)" font-size="41.0">-0.8</text>
<text transform="translate(55.86,1977.30) scale(1,1.05)" font-size="41.0">-1.0</text>
<text transform="translate(56.56,2052.90) scale(1,1.05)" font-size="41.0">-1.2</text>
<text transform="translate(162.55,2128.50) scale(1,1.05)" font-size="41.0">0</text>
<text transform="translate(272.53,2128.50) scale(1,1.05)" font-size="41.0">36</text>
<text transform="translate(393.28,2128.50) scale(1,1.05)" font-size="41.0">72</text>
<text transform="translate(502.83,2128.50) scale(1,1.05)" font-size="41.0">108</text>
<text transform="translate(622.97,2128.50) scale(1,1.05)" font-size="41.0">144</text>
<text transform="translate(744.03,2128.50) scale(1,1.05)" font-size="41.0">180</text>
<text transform="translate(865.36,2128.50) scale(1,1.05)" font-size="41.0">216</text>
<text x="63.65" y="2175.50" font-size="46.143">Angle of the M-038.DG1 rotation stage (μrad)</text>
<text x="154.78" y="2230.20" font-size="46.067">(c) Displacement in rotational motions</text>
<text transform="translate(40.60,2072.82) rotate(-90)" font-size="45.990">Displacement deviation (μm)</text>
<path d="M166.80 1580.75h12.0v12.0h-12.0zM178.86 1581.33h12.0v12.0h-12.0zM190.92 1582.15h12.0v12.0h-12.0zM202.98 1582.97h12.0v12.0h-12.0zM215.04 1583.79h12.0v12.0h-12.0zM227.10 1584.42h12.0v12.0h-12.0zM239.16 1584.94h12.0v12.0h-12.0zM251.22 1585.38h12.0v12.0h-12.0zM263.28 1585.63h12.0v12.0h-12.0zM275.34 1585.89h12.0v12.0h-12.0zM287.40 1585.90h12.0v12.0h-12.0zM299.46 1585.89h12.0v12.0h-12.0zM311.52 1585.33h12.0v12.0h-12.0zM323.58 1584.78h12.0v12.0h-12.0zM335.64 1584.18h12.0v12.0h-12.0zM347.70 1583.55h12.0v12.0h-12.0zM359.76 1582.91h12.0v12.0h-12.0zM371.82 1582.69h12.0v12.0h-12.0zM383.88 1582.47h12.0v12.0h-12.0zM395.94 1582.63h12.0v12.0h-12.0zM408.00 1582.98h12.0v12.0h-12.0zM420.06 1583.37h12.0v12.0h-12.0zM432.12 1584.19h12.0v12.0h-12.0zM444.18 1584.81h12.0v12.0h-12.0zM456.24 1584.20h12.0v12.0h-12.0zM468.30 1583.59h12.0v12.0h-12.0zM480.36 1583.01h12.0v12.0h-12.0zM492.42 1582.48h12.0v12.0h-12.0zM504.48 1582.08h12.0v12.0h-12.0zM516.54 1581.67h12.0v12.0h-12.0zM528.60 1581.19h12.0v12.0h-12.0zM540.66 1580.57h12.0v12.0h-12.0zM552.72 1579.95h12.0v12.0h-12.0zM564.78 1579.73h12.0v12.0h-12.0zM576.84 1580.04h12.0v12.0h-12.0zM588.90 1580.03h12.0v12.0h-12.0zM600.96 1579.69h12.0v12.0h-12.0zM613.02 1579.34h12.0v12.0h-12.0zM625.08 1579.60h12.0v12.0h-12.0zM637.14 1580.29h12.0v12.0h-12.0zM649.20 1579.29h12.0v12.0h-12.0zM661.26 1578.30h12.0v12.0h-12.0zM673.32 1578.30h12.0v12.0h-12.0zM685.38 1578.30h12.0v12.0h-12.0zM697.44 1578.26h12.0v12.0h-12.0zM709.50 1577.89h12.0v12.0h-12.0zM721.56 1577.53h12.0v12.0h-12.0zM733.62 1577.17h12.0v12.0h-12.0zM745.68 1577.04h12.0v12.0h-12.0zM757.74 1576.96h12.0v12.0h-12.0zM769.80 1577.17h12.0v12.0h-12.0zM781.86 1578.08h12.0v12.0h-12.0zM793.92 1579.00h12.0v12.0h-12.0zM805.98 1580.00h12.0v12.0h-12.0zM818.04 1581.03h12.0v12.0h-12.0zM830.10 1581.99h12.0v12.0h-12.0zM842.16 1582.79h12.0v12.0h-12.0zM854.22 1582.58h12.0v12.0h-12.0zM866.28 1582.23h12.0v12.0h-12.0zM878.34 1583.51h12.0v12.0h-12.0zM890.40 1583.98h12.0v12.0h-12.0z" fill="#EB0000"/>
<path d="M287.16 1629.63L287.58 1629.97" stroke="#336699" stroke-width="1.3" fill="none"/>
<circle cx="172.80" cy="1585.80" r="6.8" fill="#336699"/>
<circle cx="184.86" cy="1589.90" r="6.8" fill="#336699"/>
<circle cx="196.92" cy="1595.20" r="6.8" fill="#336699"/>
<circle cx="208.98" cy="1600.40" r="6.8" fill="#336699"/>
<circle cx="221.04" cy="1606.30" r="6.8" fill="#336699"/>
<circle cx="233.10" cy="1610.40" r="6.8" fill="#336699"/>
<circle cx="245.16" cy="1612.10" r="6.8" fill="#336699"/>
<circle cx="257.22" cy="1615.10" r="6.8" fill="#336699"/>
<circle cx="269.28" cy="1620.60" r="6.8" fill="#336699"/>
<circle cx="281.34" cy="1624.90" r="6.8" fill="#336699"/>
<circle cx="293.40" cy="1634.70" r="6.8" fill="#336699"/>
<circle cx="305.46" cy="1640.20" r="6.8" fill="#336699"/>
<circle cx="317.52" cy="1646.80" r="6.8" fill="#336699"/>
<circle cx="329.58" cy="1650.50" r="6.8" fill="#336699"/>
<circle cx="341.64" cy="1655.60" r="6.8" fill="#336699"/>
<circle cx="353.70" cy="1659.70" r="6.8" fill="#336699"/>
<circle cx="365.76" cy="1662.90" r="6.8" fill="#336699"/>
<circle cx="377.82" cy="1663.70" r="6.8" fill="#336699"/>
<circle cx="389.88" cy="1669.20" r="6.8" fill="#336699"/>
<circle cx="401.94" cy="1673.90" r="6.8" fill="#336699"/>
<circle cx="414.00" cy="1681.60" r="6.8" fill="#336699"/>
<circle cx="426.06" cy="1686.60" r="6.8" fill="#336699"/>
<circle cx="438.12" cy="1689.30" r="6.8" fill="#336699"/>
<circle cx="450.18" cy="1696.10" r="6.8" fill="#336699"/>
<circle cx="462.24" cy="1704.20" r="6.8" fill="#336699"/>
<circle cx="474.30" cy="1709.80" r="6.8" fill="#336699"/>
<circle cx="486.36" cy="1711.20" r="6.8" fill="#336699"/>
<circle cx="498.42" cy="1714.10" r="6.8" fill="#336699"/>
<circle cx="510.48" cy="1716.30" r="6.8" fill="#336699"/>
<circle cx="522.54" cy="1722.90" r="6.8" fill="#336699"/>
<circle cx="534.60" cy="1729.50" r="6.8" fill="#336699"/>
<circle cx="546.66" cy="1731.40" r="6.8" fill="#336699"/>
<circle cx="558.72" cy="1736.40" r="6.8" fill="#336699"/>
<circle cx="570.78" cy="1740.00" r="6.8" fill="#336699"/>
<circle cx="582.84" cy="1746.00" r="6.8" fill="#336699"/>
<circle cx="594.90" cy="1749.30" r="6.8" fill="#336699"/>
<circle cx="606.96" cy="1756.60" r="6.8" fill="#336699"/>
<circle cx="619.02" cy="1759.50" r="6.8" fill="#336699"/>
<circle cx="631.08" cy="1764.20" r="6.8" fill="#336699"/>
<circle cx="643.14" cy="1769.50" r="6.8" fill="#336699"/>
<circle cx="655.20" cy="1776.10" r="6.8" fill="#336699"/>
<circle cx="667.26" cy="1780.70" r="6.8" fill="#336699"/>
<circle cx="679.32" cy="1785.50" r="6.8" fill="#336699"/>
<circle cx="691.38" cy="1787.90" r="6.8" fill="#336699"/>
<circle cx="703.44" cy="1791.70" r="6.8" fill="#336699"/>
<circle cx="715.50" cy="1795.20" r="6.8" fill="#336699"/>
<circle cx="727.56" cy="1800.70" r="6.8" fill="#336699"/>
<circle cx="739.62" cy="1805.90" r="6.8" fill="#336699"/>
<circle cx="751.68" cy="1812.40" r="6.8" fill="#336699"/>
<circle cx="763.74" cy="1817.10" r="6.8" fill="#336699"/>
<circle cx="775.80" cy="1823.90" r="6.8" fill="#336699"/>
<circle cx="787.86" cy="1828.80" r="6.8" fill="#336699"/>
<circle cx="799.92" cy="1836.60" r="6.8" fill="#336699"/>
<circle cx="811.98" cy="1842.50" r="6.8" fill="#336699"/>
<circle cx="824.04" cy="1846.40" r="6.8" fill="#336699"/>
<circle cx="836.10" cy="1852.70" r="6.8" fill="#336699"/>
<circle cx="848.16" cy="1858.50" r="6.8" fill="#336699"/>
<circle cx="860.22" cy="1862.90" r="6.8" fill="#336699"/>
<circle cx="872.28" cy="1865.90" r="6.8" fill="#336699"/>
<circle cx="884.34" cy="1869.20" r="6.8" fill="#336699"/>
<circle cx="896.40" cy="1876.10" r="6.8" fill="#336699"/>
<path d="M177.86 1589.90L179.80 1591.14M190.40 1596.66L191.38 1597.07M201.98 1602.60L203.92 1603.84M214.17 1610.08L215.85 1611.05M226.23 1617.08L227.91 1618.05M237.20 1625.45L241.06 1629.58M261.84 1638.00L264.66 1640.34M273.96 1647.93L276.66 1650.11M297.80 1659.15L301.06 1662.18M310.88 1668.83L312.10 1669.40M322.27 1675.63L324.83 1677.60M335.04 1683.76L336.18 1684.28M346.72 1689.97L348.62 1691.17M359.16 1696.86L360.30 1697.38M371.02 1702.75L372.56 1703.59M383.16 1709.21L384.54 1709.92M395.27 1715.30L396.55 1715.93M407.18 1721.48L408.76 1722.35M418.77 1728.91L421.29 1730.83M431.47 1737.07L432.71 1737.67M443.02 1743.72L445.28 1745.31M455.22 1752.03L457.20 1753.31M467.26 1759.85L469.28 1761.18M478.98 1768.23L481.68 1770.41M491.80 1776.69L492.98 1777.24M502.91 1783.75L505.99 1786.48M515.80 1793.24L517.22 1793.99M527.52 1800.11L529.62 1801.52M539.13 1808.81L542.13 1811.43M552.15 1817.78L553.23 1818.25M562.78 1825.08L566.72 1829.35M576.42 1835.82L577.20 1836.11M587.63 1841.78L590.11 1843.65M600.11 1850.25L601.75 1851.19M611.73 1857.81L614.25 1859.73M624.44 1865.93L625.66 1866.50M636.04 1872.44L638.18 1873.89M648.18 1880.53L650.16 1881.81M660.05 1888.60L662.41 1890.33M672.70 1896.39L673.88 1896.94M684.03 1903.18L686.67 1905.25M696.91 1911.30L697.91 1911.73M708.74 1916.88L710.20 1917.65M720.73 1923.41L722.33 1924.32M732.84 1930.11L734.34 1930.92M745.04 1936.33L746.26 1936.90M756.74 1942.70L758.68 1943.94M768.51 1950.81L771.03 1952.73M780.36 1960.26L783.30 1962.77M792.86 1969.98L794.92 1971.35M804.79 1978.18L807.11 1979.86M817.04 1986.60L818.98 1987.84M829.38 1993.81L830.76 1994.52M841.18 2000.47L843.08 2001.67M852.56 2008.95L855.82 2011.98M876.62 2020.41L880.00 2023.63M889.32 2031.11L891.42 2032.52" stroke="#FFC11A" stroke-width="1.3" fill="none"/>
<path d="M172.80 1577.20L180.90 1591.40L164.70 1591.40zM184.86 1584.90L192.96 1599.10L176.76 1599.10zM196.92 1589.90L205.02 1604.10L188.82 1604.10zM208.98 1597.60L217.08 1611.80L200.88 1611.80zM221.04 1604.60L229.14 1618.80L212.94 1618.80zM233.10 1611.60L241.20 1625.80L225.00 1625.80zM245.16 1624.50L253.26 1638.70L237.06 1638.70zM257.22 1624.70L265.32 1638.90L249.12 1638.90zM269.28 1634.70L277.38 1648.90L261.18 1648.90zM281.34 1644.40L289.44 1658.60L273.24 1658.60zM293.40 1645.60L301.50 1659.80L285.30 1659.80zM305.46 1656.80L313.56 1671.00L297.36 1671.00zM317.52 1662.50L325.62 1676.70L309.42 1676.70zM329.58 1671.80L337.68 1686.00L321.48 1686.00zM341.64 1677.30L349.74 1691.50L333.54 1691.50zM353.70 1684.90L361.80 1699.10L345.60 1699.10zM365.76 1690.40L373.86 1704.60L357.66 1704.60zM377.82 1697.00L385.92 1711.20L369.72 1711.20zM389.88 1703.20L397.98 1717.40L381.78 1717.40zM401.94 1709.10L410.04 1723.30L393.84 1723.30zM414.00 1715.80L422.10 1730.00L405.90 1730.00zM426.06 1725.00L434.16 1739.20L417.96 1739.20zM438.12 1730.80L446.22 1745.00L430.02 1745.00zM450.18 1739.30L458.28 1753.50L442.08 1753.50zM462.24 1747.10L470.34 1761.30L454.14 1761.30zM474.30 1755.00L482.40 1769.20L466.20 1769.20zM486.36 1764.70L494.46 1778.90L478.26 1778.90zM498.42 1770.30L506.52 1784.50L490.32 1784.50zM510.48 1781.00L518.58 1795.20L502.38 1795.20zM522.54 1787.30L530.64 1801.50L514.44 1801.50zM534.60 1795.40L542.70 1809.60L526.50 1809.60zM546.66 1805.90L554.76 1820.10L538.56 1820.10zM558.72 1811.20L566.82 1825.40L550.62 1825.40zM570.78 1824.30L578.88 1838.50L562.68 1838.50zM582.84 1828.70L590.94 1842.90L574.74 1842.90zM594.90 1837.80L603.00 1852.00L586.80 1852.00zM606.96 1844.70L615.06 1858.90L598.86 1858.90zM619.02 1853.90L627.12 1868.10L610.92 1868.10zM631.08 1859.60L639.18 1873.80L622.98 1873.80zM643.14 1867.80L651.24 1882.00L635.04 1882.00zM655.20 1875.60L663.30 1889.80L647.10 1889.80zM667.26 1884.40L675.36 1898.60L659.16 1898.60zM679.32 1890.00L687.42 1904.20L671.22 1904.20zM691.38 1899.50L699.48 1913.70L683.28 1913.70zM703.44 1904.60L711.54 1918.80L695.34 1918.80zM715.50 1911.00L723.60 1925.20L707.40 1925.20zM727.56 1917.80L735.66 1932.00L719.46 1932.00zM739.62 1924.30L747.72 1938.50L731.52 1938.50zM751.68 1930.00L759.78 1944.20L743.58 1944.20zM763.74 1937.70L771.84 1951.90L755.64 1951.90zM775.80 1946.90L783.90 1961.10L767.70 1961.10zM787.86 1957.20L795.96 1971.40L779.76 1971.40zM799.92 1965.20L808.02 1979.40L791.82 1979.40zM811.98 1973.90L820.08 1988.10L803.88 1988.10zM824.04 1981.60L832.14 1995.80L815.94 1995.80zM836.10 1987.80L844.20 2002.00L828.00 2002.00zM848.16 1995.40L856.26 2009.60L840.06 2009.60zM860.22 2006.60L868.32 2020.80L852.12 2020.80zM872.28 2006.80L880.38 2021.00L864.18 2021.00zM884.34 2018.30L892.44 2032.50L876.24 2032.50zM896.40 2026.40L904.50 2040.60L888.30 2040.60z" fill="#FFC11A"/>
<line x1="164.60" y1="1922.20" x2="266.60" y2="1922.20" stroke="#EB0000" stroke-width="1.2"/>
<rect x="210" y="1916.2" width="12" height="12" fill="#EB0000"/>
<line x1="164.60" y1="1978.20" x2="266.60" y2="1978.20" stroke="#336699" stroke-width="1.2"/>
<circle cx="215.6" cy="1978.2" r="6.9" fill="#336699"/>
<line x1="164.60" y1="2033.90" x2="266.60" y2="2033.90" stroke="#FFC11A" stroke-width="1.2"/>
<path d="M215.8 2024.6L223.7 2038.3L207.9 2038.3z" fill="#FFC11A"/>
<text transform="translate(277.25,1938.10) scale(1.0060,1.0)" font-size="46.5">Roll</text>
<text transform="translate(278.59,1993.90) scale(0.9796,1.0)" font-size="46.5">Yaw</text>
<text transform="translate(277.26,2049.20) scale(1.0028,1.0)" font-size="46.5">Pitch</text>
<rect x="436" y="1552.7" width="2.2" height="2"/>
</svg>
</body></html>
